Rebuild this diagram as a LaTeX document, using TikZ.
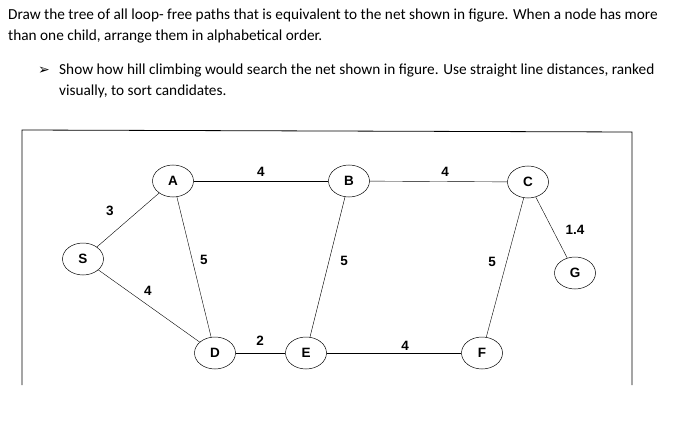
\documentclass[tikz,border=0pt]{standalone}
\usepackage{fontspec}
\setmainfont{Carlito}
\newfontfamily\arial{Liberation Sans}
\newfontfamily\djv{DejaVu Sans}
\usetikzlibrary{shapes.geometric}
\begin{document}
\begin{tikzpicture}[x=1pt,y=-1pt,
  vert/.style={ellipse,draw,line width=0.5pt,minimum width=41pt,minimum height=32pt,inner sep=0pt,font=\arial\bfseries\fontsize{13.5}{15}\selectfont},
  wlab/.style={font=\arial\bfseries\fontsize{13.5}{15}\selectfont},
  txt/.style={anchor=west,inner sep=0pt,font=\fontsize{15.3}{18}\selectfont},
  edge/.style={line width=0.4pt}]
\useasboundingbox (0,0) rectangle (682,422);
\node[txt] (t1) at (8,16) {Draw the tree of all loop- free paths that is equivalent to the net shown in figure. When a node has more};
\node[txt] (t2) at (8,37) {than one child, arrange them in alphabetical order.};
\node[txt,font=\djv\fontsize{14}{16}\selectfont] (bl) at (38,71) {➢};
\node[txt] (t3) at (59,71) {Show how hill climbing would search the net shown in figure. Use straight line distances, ranked};
\node[txt] (t4) at (59,91) {visually, to sort candidates.};
\coordinate (fl) at (22,385); \coordinate (ftl) at (22,130);
\coordinate (ftr) at (632,132); \coordinate (fr) at (632,385);
\draw[line width=0.8pt] (fl) -- (ftl) -- (ftr) -- (fr);
\node[vert] (S) at (83,259) {S};
\node[vert] (A) at (173,181) {A};
\node[vert] (B) at (349,181) {B};
\node[vert] (C) at (528,182) {C};
\node[vert] (G) at (575,273) {G};
\node[vert] (D) at (215,353) {D};
\node[vert] (E) at (306,353) {E};
\node[vert] (F) at (482,353) {F};
\draw[edge] (S) -- (A); \draw[edge] (S) -- (D);
\draw[edge] (A) -- (B); \draw[edge] (A) -- (D);
\draw[edge] (B) -- (C); \draw[edge] (B) -- (E);
\draw[edge] (C) -- (G); \draw[edge] (C) -- (F);
\draw[edge] (D) -- (E); \draw[edge] (E) -- (F);
\node[wlab] (l1) at (261,172) {4};
\node[wlab] (l2) at (445,172) {4};
\node[wlab] (l3) at (110,211) {3};
\node[wlab] (l4) at (575,230) {1.4};
\node[wlab] (l5) at (204,260) {5};
\node[wlab] (l6) at (344,261) {5};
\node[wlab] (l7) at (492,262) {5};
\node[wlab] (l8) at (148,291) {4};
\node[wlab] (l9) at (260,341) {2};
\node[wlab] (l10) at (405,346) {4};
\end{tikzpicture}
\end{document}
